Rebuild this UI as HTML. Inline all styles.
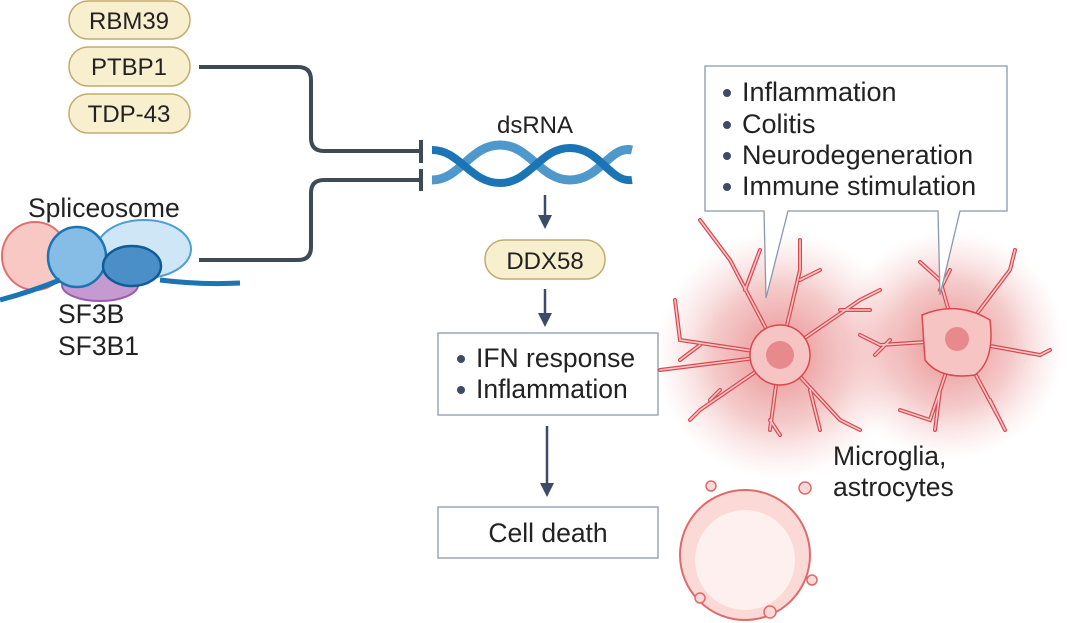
<!DOCTYPE html>
<html><head><meta charset="utf-8"><style>
body{margin:0;background:#fff;}
svg{display:block;font-family:"Liberation Sans",sans-serif;}
</style></head><body>
<svg width="1069" height="623" viewBox="0 0 1069 623" xmlns="http://www.w3.org/2000/svg">
<defs>
<radialGradient id="glow" cx="50%" cy="50%" r="50%">
<stop offset="0" stop-color="#e05a5a" stop-opacity="0.7"/>
<stop offset="0.55" stop-color="#e57a7a" stop-opacity="0.4"/>
<stop offset="1" stop-color="#f4b0b0" stop-opacity="0"/>
</radialGradient>
<marker id="ah" markerWidth="14" markerHeight="14" refX="7" refY="7" orient="auto" markerUnits="userSpaceOnUse">
<path d="M0,0 L14,7 L0,14 Z" fill="#3d4b66"/></marker>
</defs>
<g fill="#f8efcf" stroke="#c4ab6e" stroke-width="1.5">
<rect x="69" y="1" width="121" height="38" rx="19"/>
<rect x="69" y="47" width="121" height="39" rx="19"/>
<rect x="69" y="94" width="121" height="39" rx="19"/>
<rect x="485" y="240" width="120" height="39" rx="19"/>
</g>
<g font-size="24" fill="#222" text-anchor="middle">
<text x="129" y="29">RBM39</text>
<text x="129" y="75">PTBP1</text>
<text x="129" y="122">TDP-43</text>
<text x="545" y="269">DDX58</text>
<text x="535" y="133" font-size="24">dsRNA</text>
</g>
<g fill="none" stroke="#3d4b57" stroke-width="4">
<path d="M199,67 H298 Q311,67 311,80 V138 Q311,151 324,151 H420"/>
<path d="M199,260 H298 Q311,260 311,247 V193 Q311,180 324,180 H420"/>
<path d="M421,140 V163 M421,169 V191"/>
</g>
<g fill="none" stroke-width="9">
<path d="M432,180 C460,180 470,145 500,145 C530,145 540,180 570,180 C600,180 610,145 632,150" stroke="#4f98cc"/>
<path d="M432,150 C460,150 470,183 500,183 C530,183 540,148 570,148 C600,148 610,183 632,180" stroke="#1b74b3" stroke-width="8"/>
</g>
<g stroke="#3d4b66" stroke-width="2.5">
<line x1="545" y1="195" x2="545" y2="222" marker-end="url(#ah)"/>
<line x1="545" y1="289" x2="545" y2="320" marker-end="url(#ah)"/>
<line x1="547" y1="426" x2="547" y2="490" marker-end="url(#ah)"/>
</g>
<g fill="#fff" stroke="#8a98ad" stroke-width="1.3">
<rect x="438" y="333" width="220" height="82"/>
<rect x="438" y="507" width="220" height="51"/>
</g>
<g font-size="26.5" fill="#222">
<text x="476" y="367">IFN response</text>
<text x="476" y="398">Inflammation</text>
<text x="548" y="542" text-anchor="middle">Cell death</text>
</g>
<g fill="#3d4b66"><circle cx="461" cy="359" r="4"/><circle cx="461" cy="390" r="4"/></g>
<circle cx="780" cy="355" r="125" fill="url(#glow)"/>
<circle cx="950" cy="345" r="115" fill="url(#glow)"/>
<g fill="none" stroke="#d9484e" stroke-width="4" stroke-linecap="round">
<path d="M780,355 L730,260 L700,220 M745,290 L760,250 M780,355 L800,270 L800,240 M800,280 L820,270 M780,355 L860,300 L880,290 M840,310 L870,310 M780,355 L680,340 L675,300 M700,345 L680,360 M780,355 L700,410 L690,420 M720,390 L710,400 M780,355 L770,430 M770,420 L780,435 M780,355 L840,420 L860,430 M810,390 L820,430 M780,355 L660,370"/>
<path d="M957,340 L940,280 L920,262 M940,290 L950,270 M957,340 L1010,270 L1015,250 M957,340 L1040,355 L1050,350 M957,340 L1000,420 M990,400 L1005,430 M957,340 L930,420 L900,410 M940,390 L935,430 M957,340 L880,345 L860,335 M890,340 L875,355"/>
</g>
<g fill="none" stroke="#f4c8c8" stroke-width="1.6" stroke-linecap="round">
<path d="M780,355 L730,260 L700,220 M745,290 L760,250 M780,355 L800,270 L800,240 M800,280 L820,270 M780,355 L860,300 L880,290 M840,310 L870,310 M780,355 L680,340 L675,300 M700,345 L680,360 M780,355 L700,410 L690,420 M720,390 L710,400 M780,355 L770,430 M770,420 L780,435 M780,355 L840,420 L860,430 M810,390 L820,430 M780,355 L660,370"/>
<path d="M957,340 L940,280 L920,262 M940,290 L950,270 M957,340 L1010,270 L1015,250 M957,340 L1040,355 L1050,350 M957,340 L1000,420 M990,400 L1005,430 M957,340 L930,420 L900,410 M940,390 L935,430 M957,340 L880,345 L860,335 M890,340 L875,355"/>
</g>
<circle cx="780" cy="355" r="30" fill="#f6c4c2" stroke="#d9484e" stroke-width="1.5"/>
<circle cx="780" cy="355" r="14" fill="#e88a8c"/>
<path d="M922,315 Q957,300 990,320 Q995,360 975,375 Q940,380 925,360 Z" fill="#f6c4c2" stroke="#d9484e" stroke-width="1.5"/>
<circle cx="957" cy="339" r="12" fill="#e88a8c"/>
<path d="M705,66 H1007 V211 H960 L940,295 L938,211 H788 L766,298 L764,211 H705 Z" fill="#fff" stroke="#8a98ad" stroke-width="1.3"/>
<g font-size="27" fill="#222">
<text x="742" y="101">Inflammation</text>
<text x="742" y="133">Colitis</text>
<text x="742" y="164">Neurodegeneration</text>
<text x="742" y="195">Immune stimulation</text>
</g>
<g fill="#3d4b66"><circle cx="727" cy="93" r="4"/><circle cx="727" cy="125" r="4"/><circle cx="727" cy="156" r="4"/><circle cx="727" cy="187" r="4"/></g>
<text x="833" y="465" font-size="26.5" fill="#222">Microglia,</text>
<text x="833" y="496" font-size="26.5" fill="#222">astrocytes</text>
<circle cx="745" cy="555" r="65" fill="#fbd9d6" stroke="#e06a6a" stroke-width="2"/>
<circle cx="745" cy="560" r="50" fill="#fdf0ee"/>
<g fill="#fbd9d6" stroke="#e06a6a" stroke-width="1.5">
<circle cx="711" cy="486" r="5"/><circle cx="805" cy="488" r="6"/><circle cx="700" cy="598" r="5"/><circle cx="770" cy="612" r="6"/><circle cx="812" cy="580" r="5"/>
</g>
<ellipse cx="35" cy="256" rx="33" ry="34" fill="#f7c8c4" stroke="#e07070" stroke-width="2"/>
<ellipse cx="100" cy="285" rx="38" ry="16" fill="#c59ad0" stroke="#9a5aae" stroke-width="2"/>
<ellipse cx="144" cy="249" rx="47" ry="29" fill="#cfe6f7" stroke="#4a9fd8" stroke-width="2"/>
<ellipse cx="77" cy="257" rx="29" ry="30" fill="#86bde6" stroke="#1b74b3" stroke-width="2.5"/>
<ellipse cx="132" cy="266" rx="29" ry="20" fill="#4a8fc8" stroke="#135b95" stroke-width="2.5"/>
<path d="M0,300 Q30,292 60,280 M160,280 Q200,285 240,283" fill="none" stroke="#1b74b3" stroke-width="5"/>
<g font-size="26.5" fill="#222">
<text x="28" y="217">Spliceosome</text>
<text x="58" y="323">SF3B</text>
<text x="58" y="355">SF3B1</text>
</g>
</svg>
</body></html>
